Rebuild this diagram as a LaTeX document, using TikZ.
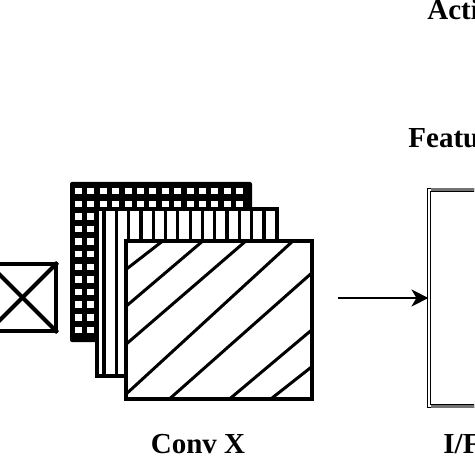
\documentclass[tikz,border=0pt]{standalone}
\usepackage{fontspec}
\setmainfont{Liberation Serif}
\usetikzlibrary{arrows.meta, positioning}

\tikzset{
  layer/.style={draw=black, line width=2.2pt, fill=white},
  hatch/.style={line width=1.5pt},
  lbl/.style={font=\bfseries\fontsize{14.5}{17}\selectfont, inner sep=0pt, anchor=base west},
  ifbox/.style={rectangle, draw=black, double=white, double distance=1pt, line width=0.55pt,
                minimum width=120pt, minimum height=108pt},
}

\begin{document}
\begin{tikzpicture}[x=0.5pt, y=-0.5pt]
  \useasboundingbox (0,0) rectangle (474,474);
  \clip (0,0) rectangle (474,474);

  % input kernel
  \node[draw, line width=2pt, minimum size=33pt, inner sep=0pt] (kern) at (22.5,297.5) {};
  \draw[line width=2pt] (kern.north west) -- (kern.south east);
  \draw[line width=2pt] (kern.north east) -- (kern.south west);

  % back layer: grid
  \fill[black, rounded corners=1pt] (70,182) rectangle (252,342);
  \foreach \i in {0,...,13}
    \foreach \j in {0,...,11}
      \fill[white] ({75+12.4*\i},{188+12.6*\j}) rectangle +(7,6.5);

  % middle layer: vertical lines
  \draw[layer] (97,209) rectangle (277,376);
  \foreach \k in {0,...,13}
    \draw[line width=1.6pt] ({104+12.3*\k},209) -- ++(0,167);

  % front layer: diagonal lines
  \fill[white] (126,241) rectangle (312,399);
  \begin{scope}
    \clip (126,241) rectangle (312,399);
    \draw[hatch] (124,271) -- (164,240);
    \draw[hatch] (124,308) -- (204,240);
    \draw[hatch] (124,346) -- (247,240);
    \draw[hatch] (124,396) -- (294,240);
    \draw[hatch] (166,402) -- (314,271);
    \draw[hatch] (226,402) -- (314,328);
    \draw[hatch] (267,402) -- (314,365);
  \end{scope}
  \draw[line width=2.2pt] (126,241) rectangle (312,399);

  % interface block
  \node[ifbox] (ifb) at (549,298) {};
  \draw[black!55, line width=1.8pt] ([xshift=1.2pt]ifb.north west) -- (ifb.north east);
  \draw[black!55, line width=1.8pt] ([xshift=1.2pt]ifb.south west) -- (ifb.south east);

  % arrow
  \coordinate (src) at (338,298);
  \draw[-{Stealth[length=8.5pt, width=8.5pt, inset=2.5pt]}, line width=0.9pt] (src) -- (ifb);

  % labels
  \node[lbl, anchor=base] (convlbl) at (198,453) {Conv X};
  \node[lbl] (actlbl) at (427,20) {Activation};
  \node[lbl] (featlbl) at (408,148) {Feature};
  \node[lbl] (iflbl) at (443,453) {I/F};
\end{tikzpicture}
\end{document}
